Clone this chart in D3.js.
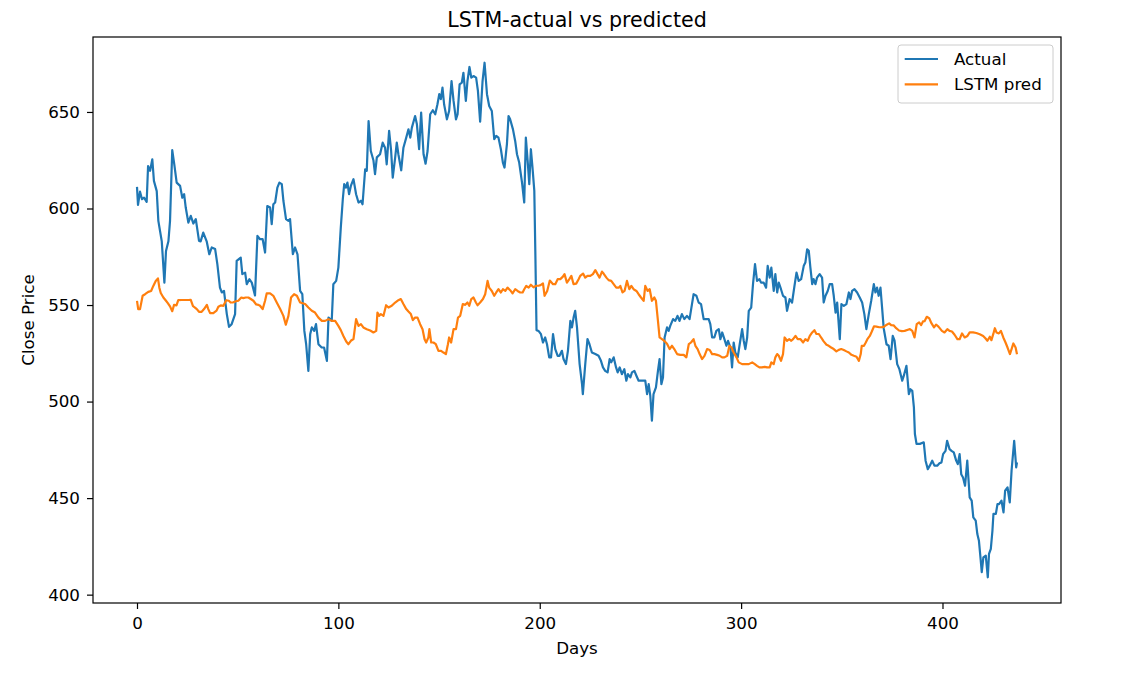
<!DOCTYPE html>
<html><head><meta charset="utf-8">
<script src="https://cdn.jsdelivr.net/npm/d3@7"></script>
<style>
body{margin:0;background:#fff;}
svg{display:block;font-family:"DejaVu Sans",sans-serif;}
</style>
</head><body>
<svg id="chart" width="1148" height="683"></svg>
<script>
// [day, close price]
const actualPoints = [[0,611.2],[0.5,601.9],[1.5,608.7],[2.5,604.8],[3.5,605.6],[4.8,603.4],[5.5,622],[6.5,619.5],[7.6,625.5],[8.4,614.3],[9.8,609],[10.6,593.6],[12.3,583],[13.6,561.6],[14.4,578],[15.6,583],[16.4,593.6],[17.5,630.2],[18.5,623],[19.7,613.4],[21.4,611.7],[22.5,605.6],[23.4,607.4],[24.2,600.5],[25.5,592.7],[26.7,596.2],[28,592.2],[29.2,594.5],[30.8,583.2],[31.6,583],[32.9,587.5],[34.6,583],[35.9,576.3],[37.1,579.8],[38.8,579],[39.9,571.2],[41.2,559],[42.1,556.5],[43.2,557.3],[44.6,545.3],[45.7,538.7],[47,540.1],[48.7,545.3],[49.5,572.9],[51.5,574.6],[52.3,566],[53.7,566.8],[54.5,560.8],[55.8,563.4],[57,561.6],[58.6,555],[59.8,585.8],[61.1,584.1],[62.4,584.1],[63.6,577.2],[64.7,601.3],[66.1,600.5],[66.9,591.9],[67.7,602.2],[68.6,603.1],[69.7,610.8],[70.7,613.4],[71.9,612.6],[72.7,604],[74,594.5],[75.2,593.6],[76,594.5],[77.4,576.3],[78.5,579.8],[79.7,576.3],[81,557.3],[82.1,555.6],[83.1,536.6],[84,529.7],[85.1,515.9],[86,534.9],[86.8,538.4],[88,536.6],[88.9,540.1],[90.1,529.7],[91.7,528],[92.9,528],[94.3,521.1],[95.1,543.5],[96.7,541.8],[97.5,560.8],[98.9,562.5],[100,569.4],[101.2,590.1],[102.2,604.8],[102.9,612.6],[103.7,610.8],[104.5,613.4],[105.3,607.4],[106.2,611.7],[107.5,615.2],[108.8,607.4],[110,603.1],[111.2,604],[112,602.2],[113.3,620.3],[114.1,619.5],[115,645.3],[116.1,629.8],[117.4,625],[118.2,617.8],[119.1,626.5],[120.7,628.1],[122,634.1],[123.2,631.5],[124,622.9],[125.2,640.2],[126.2,629.8],[127,616],[128.2,626.3],[129,634.1],[129.8,628.1],[131.2,619.8],[132.3,631.5],[133.7,636.7],[134.8,641],[135.7,636.7],[136.5,641.9],[138.1,647.9],[139,643.6],[140.1,630.7],[141.1,649.7],[142.3,628.1],[143.3,623.2],[144.3,629.8],[145.6,648.8],[146.9,650.9],[148.1,648.8],[149.2,654],[150.1,659.2],[150.9,656.6],[151.7,662.6],[152.5,654],[153.9,646.2],[155,650.5],[156.2,666],[157.2,655.7],[158.4,646.2],[159.2,648.8],[160.2,664.3],[161.3,665.2],[162.1,670.3],[163.3,655.7],[164.1,666],[165.1,673.3],[166,667.8],[167.1,668.6],[168.4,667.8],[169.3,660.9],[170.4,645],[171.6,666],[172.6,675.5],[173.8,659.2],[174.9,653.1],[176.2,650.5],[177.4,635.9],[178.4,637.6],[179.5,636.7],[180.7,630.7],[181.7,623.8],[182.5,621.2],[183.7,633.3],[184.5,647.9],[185.3,646.2],[186.7,641],[187.8,635],[188.7,628.1],[189.8,623.8],[191.2,613.4],[192.3,603.1],[193.1,636.7],[194,624.6],[194.8,612.6],[195.6,630.7],[196.4,621.2],[197.3,609.1],[197.8,578],[198.4,537],[199.4,536.6],[200.6,534.9],[201.6,530.6],[202.7,533.2],[203.6,529.7],[204.7,522.9],[205.6,522.9],[206.6,534.9],[207.7,527.2],[208.9,523.7],[209.8,523.7],[211,526.3],[211.8,522],[213,519.4],[214,526.3],[215.2,541.8],[216,538.4],[216.8,543.5],[217.6,547],[218.5,538.4],[219.8,519.4],[221,509],[221.4,503.9],[222.6,519.4],[223.7,532.4],[224.7,529.7],[225.9,525.4],[227.6,524.6],[229.2,523.7],[230.4,521.1],[231.4,517.7],[232.5,515.9],[233.7,515.1],[234.7,522],[235.5,520.3],[236.7,522.9],[237.9,517.7],[238.7,515.1],[239.7,517.7],[240.8,514.2],[242,516.8],[243,510.8],[243.8,514.2],[245,512.5],[245.8,515.1],[247,515.9],[248,513.4],[249.1,510.8],[250.8,510.8],[252.4,510.8],[253.3,503.9],[254.1,509],[254.9,503],[255.7,490.1],[256.5,503.9],[257.7,507.3],[258.7,515.9],[259.5,522],[260.4,509],[261.2,512.5],[262,533.2],[263.2,538.4],[264,536.6],[264.8,539.2],[266.2,542.7],[267.3,541.8],[268.4,544.4],[269.4,541.8],[270.6,545.3],[271.8,542.7],[273.1,544.4],[274.4,542.7],[275.6,550.5],[276.4,555.6],[277.8,554.8],[278.9,551.3],[280.1,550.5],[281.4,542.7],[282.6,542.7],[283.9,542.7],[284.7,540.1],[285.6,533.2],[286.7,533.2],[287.7,536.6],[288.9,537.5],[289.7,532.3],[290.6,535.8],[291.7,532.3],[292.7,528.9],[293.5,531.5],[294.7,528],[295.5,517.7],[296.3,530.6],[297.1,525.4],[298.3,522.9],[299.3,529.7],[300.5,537.5],[301.3,531.5],[302.1,527.2],[303,533.2],[303.8,547],[305,548.7],[305.9,560.8],[306.9,571.2],[307.9,562.5],[309.1,563.4],[309.9,561.6],[311.2,561.6],[312.4,559],[313.2,570.3],[314.2,564.2],[315,569.4],[316.2,557.3],[317,566],[317.9,556.5],[318.7,561.6],[319.8,558.2],[320.8,554.8],[322,553.9],[322.8,547],[324.1,553.1],[325.3,551.3],[326.5,559.9],[327.5,566.8],[328.6,562.5],[329.8,563.4],[331.1,570.3],[331.9,572],[332.8,578.9],[333.6,578.1],[334.4,569.4],[335.3,560.8],[336,563.4],[336.9,560.8],[337.7,564.2],[339,566],[340.2,564.2],[341,551.3],[341.9,554.8],[343,557.3],[344,560.8],[345.2,560.8],[346,554.8],[346.9,546.1],[347.7,551.3],[349,532.3],[349.8,550.5],[351,549.6],[352.3,550.5],[353.5,556.5],[354.3,553.1],[355.1,557.3],[356.3,558.2],[357.6,556.5],[358.9,553.9],[360.1,551.3],[361.2,545.3],[362.2,537.5],[363.4,545.3],[364.6,552.2],[365.9,560.8],[366.7,556.5],[367.5,559],[368.3,554.8],[369.2,559],[370,548.7],[370.8,538],[372.2,529.7],[373.3,528.9],[374.2,522],[375.3,534],[376.2,531.5],[377.5,519.4],[378.6,516.8],[380,510.8],[380.8,513.4],[382.1,518.5],[383.3,503.9],[384.1,506.4],[385,505.6],[385.8,497],[386.3,483.2],[387.1,478.1],[388.8,478.1],[390.7,478.9],[391.6,469.4],[392.7,465],[393.7,466.8],[394.9,469.4],[396,466.8],[397.4,466.8],[398.5,468],[399.5,468.5],[400.3,472.8],[401.5,474.5],[402.3,479.7],[403.5,475.4],[404.5,474.5],[405.6,473.7],[406.8,469.4],[407.6,467.6],[408.5,472.8],[409.3,462.4],[410.2,460.7],[411.2,456.4],[412.3,469.4],[413.5,450.4],[414.5,448.7],[415.3,440],[416.5,438.3],[417.3,431.4],[418.1,427.9],[419,417.6],[419.5,411.6],[420.3,419.3],[421.5,420.2],[422.5,409],[423.1,421.1],[424,423.7],[424.8,433.1],[425.3,441.8],[426.5,441.8],[427.3,446.9],[428.1,446.9],[429.3,448.7],[430.3,442.6],[431.1,453.8],[432.3,455.5],[433.4,447.8],[434.3,464.2],[435.6,479.7],[436.6,465.9],[437,468.5]];

const predPoints = [[0,552.2],[0.6,547.9],[1.5,547.9],[2.8,554.8],[4,555.6],[5.6,556.8],[7,557.3],[8.1,559.9],[9.3,562.5],[10.4,563.8],[11.1,559],[11.8,556.2],[13.1,553.9],[14.4,552.2],[15.3,551],[16.4,549.3],[17.5,546.8],[18.4,550.1],[19.6,549.8],[20.5,552.5],[22.2,552.6],[23.9,552.6],[25.5,552.6],[26.7,552.7],[27.8,549.4],[28.8,548.7],[29.7,547.9],[30.8,546.5],[32.1,546.5],[33.3,547.9],[34.7,550.1],[35.4,547.9],[36.3,545.8],[37.9,545.8],[39.5,547.1],[40.4,549.1],[41.6,549.8],[42.9,549.6],[44.3,552.5],[45.6,552.2],[46.5,551.3],[47.8,551.4],[49.2,552],[50.3,552.2],[51.8,553.9],[52.8,553.6],[54,553.9],[55.3,553.9],[56.5,553.1],[57.8,552.2],[59.2,550.3],[60.3,550.1],[61.1,549.6],[62.4,547.9],[63.6,552.2],[64.4,556],[66.1,556],[67.7,554.8],[69.4,551.3],[71.1,547.9],[72.7,544.4],[73.9,539.8],[75.2,544.4],[76.5,553.9],[78,555.6],[79.4,554.8],[81,551.3],[83.5,550.5],[85.1,548.7],[86.8,547],[88.4,546.1],[90.1,543.5],[91.8,541.8],[93.4,541.8],[95.1,542.7],[96.7,541.8],[98.4,541.8],[100,539.2],[101.2,537],[102.5,534],[103.9,531.1],[105,529.7],[106.2,531.5],[107.5,532.4],[108.8,542.7],[110,539.2],[111.2,540.1],[112.4,538.4],[114.1,537.5],[115.8,536.8],[117.4,535.8],[118.8,536.6],[119.4,546.1],[120.3,544.4],[121.1,545.3],[122.4,544.4],[123.7,549.9],[124.9,548.7],[126.5,549.6],[128.2,551.3],[129.8,552.5],[131,553.1],[132.3,550.5],[133.7,547.9],[134.8,546.6],[136,545.3],[137,542.2],[138.1,543.5],[139.3,543.5],[140.6,540.1],[141.8,537.5],[142.8,532.3],[143.6,530.6],[144.7,533.2],[145.2,537.5],[146.1,530.6],[147.2,530.6],[148.4,529.7],[149.7,526.3],[151,526.3],[152.2,525.4],[153.4,524.6],[154.4,529.7],[155,533.2],[156,530.6],[157.2,537.5],[158.4,537.5],[159.4,543.5],[160.5,544.4],[161.8,550.5],[163,550.1],[164.1,551.3],[165,549.6],[166,553.1],[167.1,553.9],[168.3,551.3],[169.1,549.9],[170.4,551.3],[171.8,553.1],[172.9,555.6],[174.1,562.5],[174.9,559],[176.2,557.3],[177.4,554.8],[178.4,556.5],[179.5,558.2],[180.7,556.5],[181.7,558.2],[182.9,557.3],[184,559],[185.3,557.7],[186.5,556],[187.8,558.2],[189,557.3],[190.3,556.5],[191.5,556.5],[192.3,558.2],[193.3,559.9],[194.5,559],[195.6,560.5],[196.9,559.2],[198.3,560],[199.4,560],[200.4,560.3],[201.6,561.2],[202.4,554.8],[203.7,557.3],[205,562.7],[206.6,560.8],[207.7,560.8],[208.9,563.4],[210.2,563.4],[211.4,564.6],[212.3,566],[213.5,561.6],[214.7,563.4],[215.7,565.1],[216.8,560.8],[218.1,561.1],[219.3,563.4],[220.1,565.1],[221.5,566.3],[222.6,564.2],[223.7,565.1],[225.1,565.1],[226.4,566],[227.6,568.1],[228.7,566],[229.7,564.2],[230.9,567.3],[231.7,566.3],[233.1,564.2],[234.2,562.9],[235.5,562.5],[236.7,560.8],[238,559],[239.2,559],[240,559.9],[241.1,556.5],[242.1,557.3],[243.3,562.5],[244.5,558.2],[245.5,559.9],[246.6,558.2],[248,557.3],[249.1,555.6],[250.3,553.9],[251.6,552.2],[252.4,559.9],[253.6,557.3],[254.6,558.2],[255.7,552.2],[256.9,553.9],[257.7,552.2],[258.7,541.8],[259.5,533.2],[260.7,532.3],[261.8,531.5],[263.2,530],[264.5,527.2],[265.7,528.9],[266.8,527.2],[268.2,524.6],[269.8,524.2],[271.5,524.2],[272.8,522.9],[274,529.7],[275.1,530.6],[276.4,532.3],[277.3,528.9],[278.4,527.2],[279.4,524.6],[280.6,522],[281.8,523.7],[283.1,527.2],[284.4,526.7],[285.6,524.6],[286.7,524.6],[288.1,524.2],[289.4,523.7],[290.6,522.9],[291.7,522.9],[293.1,523.7],[294.2,528.9],[295.2,528],[296.3,525.4],[297.7,522.9],[298.8,520.3],[300.5,519.4],[302.1,519.4],[303.8,519.4],[305.5,520.3],[306.8,519.4],[307.9,518.5],[309.1,517.7],[310.4,517.7],[311.7,518],[312.9,517.7],[314.2,517.7],[315,520.3],[316.2,519.4],[317,522.9],[317.9,524.6],[318.7,523.7],[319.8,521.1],[320.8,524.6],[321.6,533.2],[322.8,531.5],[323.9,532.3],[324.9,531.5],[325.8,532.3],[327,534],[328.1,532.3],[329.5,532.3],[330.8,530.6],[331.9,532.3],[333.1,531.5],[334.1,534],[335.3,535.8],[336.4,537],[337.4,535],[338.6,535],[339.7,533.2],[341,531.2],[342.4,529.4],[343.5,528.9],[344.7,528],[346,527.2],[347.3,526],[348.5,526.8],[349.7,527.2],[351,526.7],[352.3,526],[353.5,525.4],[354.8,524.2],[356,523.7],[357.3,523.2],[358.5,521.1],[359.4,524.6],[359.9,528.9],[361,528.9],[361.9,530.6],[362.7,532.3],[363.9,534],[364.9,536.3],[366,539],[367.2,538.8],[368.6,538.5],[369.9,538.6],[371,538.8],[372.3,539.8],[373.5,540.5],[374.5,539.6],[375.7,539.5],[377,538],[378.4,536.8],[379.8,536.5],[381.2,536.6],[382.8,537.2],[383.8,537.5],[385,536.6],[386.1,533.2],[387.2,540.1],[388.4,541],[389.4,539.6],[390.3,541.5],[391.1,541.6],[392.2,543.9],[393.4,543.2],[394.5,540.6],[395.8,538.4],[396.8,539.9],[398,538.8],[399.7,536.6],[401,535.8],[402.4,537.5],[403.5,536.6],[404.7,536.3],[406,534.6],[407.4,532.3],[408.5,532.3],[409.7,535.3],[411,533.2],[412.4,534],[413.5,535.8],[415.2,535.8],[416.8,535.5],[418.5,534.9],[420.2,534],[421.3,532.8],[422.3,531.5],[423.5,533.6],[424.3,531.8],[425.2,534.9],[426,538],[426.8,535.8],[428,535.3],[429,536.6],[430.2,533.2],[431.3,530.6],[432.3,528],[433.5,524.6],[434.3,527.2],[435.2,530.1],[436.3,528],[437,524.5]];

const seriesNames = ["Actual", "LSTM pred"];
const seriesColors = ["#1f77b4", "#ff7f0e"];
const xTicks = [0, 100, 200, 300, 400];
const yTicks = [400, 450, 500, 550, 600, 650];
const titleText = "LSTM-actual vs predicted";
const xLabel = "Days";
const yLabel = "Close Price";

const W = 1148, H = 683;
const M = {top: 37, right: 87, bottom: 80, left: 93};
const iw = W - M.left - M.right, ih = H - M.top - M.bottom;
const FS = 16.7;

const svg = d3.select("#chart");
svg.append("rect").attr("width", W).attr("height", H).attr("fill", "#fff");

const allPts = actualPoints.concat(predPoints);
const [xmin, xmax] = d3.extent(allPts, d => d[0]);
const [ymin, ymax] = d3.extent(allPts, d => d[1]);
const xpad = 0.05 * (xmax - xmin), ypad = 0.05 * (ymax - ymin);

const x = d3.scaleLinear().domain([xmin - xpad, xmax + xpad]).range([M.left, M.left + iw]);
const y = d3.scaleLinear().domain([ymin - ypad, ymax + ypad]).range([M.top + ih, M.top]);

const line = d3.line().x(d => x(d[0])).y(d => y(d[1]));

[actualPoints, predPoints].forEach((pts, i) => {
  svg.append("path").datum(pts)
    .attr("d", line)
    .attr("fill", "none")
    .attr("stroke", seriesColors[i])
    .attr("stroke-width", 2.2)
    .attr("stroke-linejoin", "round");
});

// axes
const gx = svg.append("g").attr("transform", `translate(0,${M.top + ih})`)
  .call(d3.axisBottom(x).tickValues(xTicks).tickSize(6).tickPadding(8).tickFormat(d3.format("d")));
const gy = svg.append("g").attr("transform", `translate(${M.left},0)`)
  .call(d3.axisLeft(y).tickValues(yTicks).tickSize(6).tickPadding(7).tickFormat(d3.format("d")));
[gx, gy].forEach(g => {
  g.select(".domain").remove();
  g.selectAll("text").attr("font-size", FS).attr("fill", "#000").attr("font-family", "DejaVu Sans, sans-serif");
  g.selectAll("line").attr("stroke", "#000").attr("stroke-width", 1.2);
});

// frame
svg.append("rect").attr("x", M.left).attr("y", M.top).attr("width", iw).attr("height", ih)
  .attr("fill", "none").attr("stroke", "#000").attr("stroke-width", 1.2);

// title & labels
svg.append("text").attr("x", M.left + iw / 2).attr("y", 27).attr("text-anchor", "middle")
  .attr("font-size", 20.6).attr("fill", "#000").text(titleText);
svg.append("text").attr("x", M.left + iw / 2).attr("y", 654).attr("text-anchor", "middle")
  .attr("font-size", FS).attr("fill", "#000").text(xLabel);
svg.append("text").attr("transform", `translate(34,${M.top + ih / 2}) rotate(-90)`).attr("text-anchor", "middle")
  .attr("font-size", FS).attr("fill", "#000").text(yLabel);

// legend
const lg = svg.append("g");
const lx = 898, ly = 45, lw = 155, lh = 58;
lg.append("rect").attr("x", lx).attr("y", ly).attr("width", lw).attr("height", lh)
  .attr("rx", 3).attr("fill", "#fff").attr("fill-opacity", 0.8).attr("stroke", "#cccccc").attr("stroke-width", 1);
seriesNames.forEach((name, i) => {
  const yy = ly + 14 + i * 25.3;
  lg.append("line").attr("x1", lx + 6.7).attr("x2", lx + 40).attr("y1", yy).attr("y2", yy)
    .attr("stroke", seriesColors[i]).attr("stroke-width", 2.2);
  lg.append("text").attr("x", lx + 56).attr("y", yy + 6).attr("font-size", FS).attr("fill", "#000").text(name);
});
</script>
</body></html>
